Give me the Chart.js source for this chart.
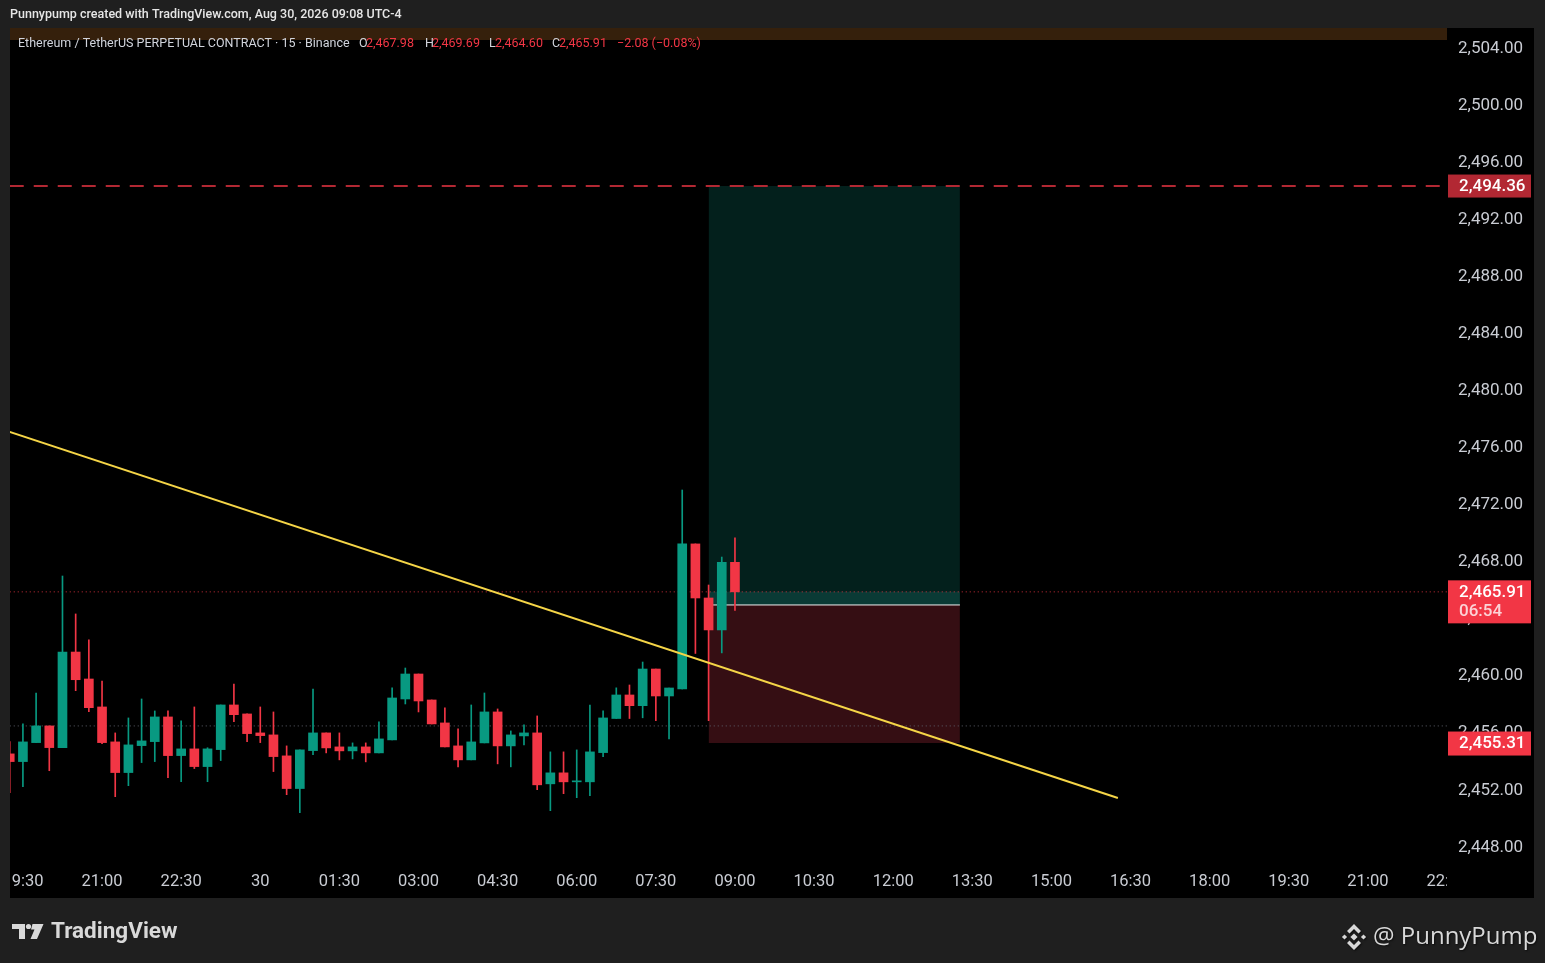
<!DOCTYPE html>
<html>
<head>
<meta charset="utf-8">
<script src="https://cdn.jsdelivr.net/npm/chart.js@4.4.0/dist/chart.umd.min.js"></script>
<style>
  html, body { margin: 0; padding: 0; background: #1f1f1f; overflow: hidden; }
  #wrap { position: relative; width: 1545px; height: 963px; }
</style>
</head>
<body>
<div id="wrap"><canvas id="c" width="1545" height="963"></canvas></div>
<script>
// 15m ETHUSDT.P candles, Aug 29 19:15 -> Aug 30 09:00 (UTC-4)
var candleTimes = ["19:15","19:30","19:45","20:00","20:15","20:30","20:45","21:00","21:15","21:30","21:45","22:00","22:15","22:30","22:45","23:00","23:15","23:30","23:45","00:00","00:15","00:30","00:45","01:00","01:15","01:30","01:45","02:00","02:15","02:30","02:45","03:00","03:15","03:30","03:45","04:00","04:15","04:30","04:45","05:00","05:15","05:30","05:45","06:00","06:15","06:30","06:45","07:00","07:15","07:30","07:45","08:00","08:15","08:30","08:45","09:00"];
var opens  = [2454.55,2454.01,2455.34,2456.51,2454.99,2461.69,2459.80,2457.84,2455.39,2453.24,2455.13,2455.41,2457.14,2454.43,2454.90,2453.66,2454.85,2457.98,2457.35,2456.02,2455.88,2454.41,2452.12,2454.78,2456.02,2455.04,2454.76,2455.04,2454.62,2455.53,2458.40,2460.15,2458.33,2456.72,2455.11,2454.13,2455.32,2457.49,2455.11,2455.81,2456.02,2452.45,2453.22,2452.59,2452.59,2454.64,2457.03,2458.68,2457.93,2460.50,2458.61,2459.10,2469.27,2465.48,2463.24,2467.98];
var highs  = [2455.41,2456.65,2458.82,2456.51,2467.02,2464.36,2462.54,2459.66,2456.02,2457.07,2458.40,2457.56,2457.56,2456.86,2457.84,2454.98,2457.98,2459.45,2457.35,2457.84,2457.49,2455.11,2454.83,2459.10,2456.02,2456.02,2455.32,2455.32,2456.79,2459.18,2460.57,2460.15,2458.33,2457.77,2456.30,2457.98,2458.82,2457.70,2456.16,2456.58,2457.21,2454.69,2454.69,2454.83,2457.98,2457.56,2459.18,2459.38,2460.99,2460.50,2459.17,2473.05,2469.27,2466.39,2468.35,2469.69];
var lows   = [2451.83,2452.25,2455.34,2453.37,2454.99,2458.98,2457.51,2455.27,2451.55,2452.32,2453.94,2454.01,2452.88,2452.60,2453.52,2452.60,2454.08,2456.81,2455.41,2455.34,2453.31,2451.69,2450.43,2454.50,2454.62,2454.13,2454.20,2453.99,2454.62,2455.53,2458.05,2457.49,2456.65,2455.04,2453.64,2454.13,2455.32,2453.85,2453.64,2455.18,2452.04,2450.57,2451.76,2451.48,2451.62,2454.36,2457.03,2457.03,2457.08,2456.88,2455.60,2459.10,2461.59,2456.88,2461.63,2464.60];
var closes = [2454.01,2455.39,2456.51,2454.99,2461.69,2459.75,2457.79,2455.34,2453.24,2455.18,2455.46,2457.14,2454.43,2454.90,2453.66,2454.90,2457.98,2457.30,2455.97,2455.83,2454.36,2452.12,2454.83,2456.02,2454.97,2454.76,2455.04,2454.62,2455.60,2458.47,2460.15,2458.26,2456.65,2455.04,2454.13,2455.39,2457.49,2455.11,2455.88,2456.02,2452.38,2453.22,2452.59,2452.64,2454.69,2457.07,2458.68,2457.93,2460.50,2458.61,2459.17,2469.27,2465.48,2463.24,2467.98,2465.91];

// time axis: bar index of each label (one label per 6 bars)
var xTickPos    = [1,7,13,19,25,31,37,43,49,55,61,67,73,79,85,91,97,103,109];
var xTickLabels = ["19:30","21:00","22:30","30","01:30","03:00","04:30","06:00","07:30","09:00","10:30","12:00","13:30","15:00","16:30","18:00","19:30","21:00","22:30"];
var yTicks = [2448,2452,2456,2460,2464,2468,2472,2476,2480,2484,2488,2492,2496,2500,2504];

// drawings
var trendX = [0, 84.04];
var trendY = [2477.12, 2451.46];
var boxX = [53, 72.06];
var targetPrice = 2494.36;
var entryPrice = 2464.99;
var stopPrice = 2455.31;
var lastPrice = 2465.91;
var greyLevel = 2456.51;

var UP = '#089981', DOWN = '#f23645';

var candleColors = closes.map(function (c, i) { return c >= opens[i] ? UP : DOWN; });
var wickData = lows.map(function (l, i) { return { x: i, y: [l, highs[i]] }; });
var bodyData = opens.map(function (o, i) { return { x: i, y: [o, closes[i]] }; });

function hline(price, x0, x1) { return [{ x: x0, y: price }, { x: x1, y: price }]; }
function fmt(v) { return v.toLocaleString('en-US', { minimumFractionDigits: 2, maximumFractionDigits: 2 }); }

var frame = {
  id: 'frame',
  beforeDraw: function (chart) {
    var ctx = chart.ctx;
    ctx.save();
    ctx.fillStyle = '#1f1f1f';
    ctx.fillRect(0, 0, 1545, 963);
    ctx.fillStyle = '#000';
    ctx.fillRect(10, 28, 1524, 870);
    ctx.fillStyle = '#35200c';
    ctx.fillRect(10, 28, 1437, 12);
    ctx.restore();
  },
  afterDraw: function (chart) {
    var ctx = chart.ctx, ys = chart.scales.y;
    ctx.save();
    // clip time labels at the pane edges
    ctx.fillStyle = '#1f1f1f';
    ctx.fillRect(0, 28, 10, 870);
    ctx.fillStyle = '#000';
    ctx.fillRect(1447, 863, 87, 34);

    // header
    ctx.textBaseline = 'middle';
    ctx.textAlign = 'left';
    ctx.fillStyle = '#e6e6e6';
    ctx.font = '500 12.5px Roboto';
    ctx.fillText('Punnypump created with TradingView.com, Aug 30, 2026 09:08 UTC-4', 10, 15);

    // legend line
    ctx.font = '12.5px Roboto';
    ctx.fillStyle = '#d1d4dc';
    ctx.fillText('Ethereum / TetherUS PERPETUAL CONTRACT \u00b7 15 \u00b7 Binance', 18, 44);
    var parts = [['O', 359, fmt(opens[55]), 366], ['H', 425, fmt(highs[55]), 432], ['L', 489, fmt(lows[55]), 495], ['C', 552, fmt(closes[55]), 559]];
    parts.forEach(function (p) {
      ctx.fillStyle = '#d1d4dc'; ctx.fillText(p[0], p[1], 44);
      ctx.fillStyle = DOWN; ctx.fillText(p[2], p[3], 44);
    });
    ctx.fillStyle = DOWN;
    ctx.fillText('\u22122.08 (\u22120.08%)', 617, 44);

    // price scale labels
    function tag(price, color, h, text, sub) {
      var y = ys.getPixelForValue(price);
      ctx.fillStyle = color;
      ctx.fillRect(1448, y - 11.5, 83, h);
      ctx.fillStyle = '#fff';
      ctx.font = '500 17px Roboto';
      ctx.fillText(text, 1459, y + 0.5);
      if (sub) {
        ctx.fillStyle = 'rgba(255,255,255,0.78)';
        ctx.fillText(sub, 1459, y + 20);
      }
    }
    tag(targetPrice, '#b22833', 23, fmt(targetPrice));
    tag(lastPrice, DOWN, 43, fmt(lastPrice), '06:54');
    tag(stopPrice, DOWN, 24, fmt(stopPrice));

    // footer: TradingView logo
    ctx.fillStyle = '#d9d9d9';
    ctx.fillRect(12, 924, 13, 5);
    ctx.fillRect(19, 924, 6, 15);
    ctx.beginPath(); ctx.arc(28.5, 926.5, 2.6, 0, Math.PI * 2); ctx.fill();
    ctx.beginPath();
    ctx.moveTo(32.5, 924); ctx.lineTo(43.5, 924); ctx.lineTo(37, 939); ctx.lineTo(30.5, 939); ctx.lineTo(34.5, 929.5); ctx.lineTo(31, 929.5);
    ctx.closePath(); ctx.fill();
    ctx.font = 'bold 22.5px Roboto';
    ctx.fillText('TradingView', 51, 932);

    // footer: watermark
    var cx = 1354, cy = 937;
    ctx.fillStyle = '#d8d8d8';
    ctx.shadowColor = 'rgba(0,0,0,0.6)'; ctx.shadowBlur = 2; ctx.shadowOffsetX = 1; ctx.shadowOffsetY = 1;
    function diamond(x, y, r) { ctx.beginPath(); ctx.moveTo(x, y - r); ctx.lineTo(x + r, y); ctx.lineTo(x, y + r); ctx.lineTo(x - r, y); ctx.closePath(); ctx.fill(); }
    diamond(cx, cy, 3.6);
    diamond(cx - 9.5, cy, 2.6);
    diamond(cx + 9.5, cy, 2.6);
    [-1, 1].forEach(function (s) {
      ctx.beginPath();
      ctx.moveTo(cx, cy + s * 13); ctx.lineTo(cx + 7, cy + s * 6); ctx.lineTo(cx + 4.5, cy + s * 3.5);
      ctx.lineTo(cx, cy + s * 8); ctx.lineTo(cx - 4.5, cy + s * 3.5); ctx.lineTo(cx - 7, cy + s * 6);
      ctx.closePath(); ctx.fill();
    });
    ctx.font = '24px "Open Sans"';
    ctx.fillText('@ PunnyPump', 1373, cy);
    ctx.restore();
  }
};

new Chart(document.getElementById('c'), {
  type: 'bar',
  data: {
    datasets: [
      { type: 'line', data: hline(targetPrice, boxX[0], boxX[1]), fill: { value: entryPrice }, backgroundColor: '#03201c', borderWidth: 0, pointRadius: 0, order: 12 },
      { type: 'line', data: hline(lastPrice, boxX[0], boxX[1]), fill: { value: entryPrice }, backgroundColor: '#0a3a35', borderWidth: 0, pointRadius: 0, order: 11 },
      { type: 'line', data: hline(stopPrice, boxX[0], boxX[1]), fill: { value: entryPrice }, backgroundColor: '#350e13', borderWidth: 0, pointRadius: 0, order: 11 },
      { type: 'line', data: hline(entryPrice, boxX[0], boxX[1]), borderColor: '#f0f0f0', borderWidth: 1, pointRadius: 0, order: 10 },
      { type: 'line', data: hline(targetPrice, 0, 109), borderColor: '#b22833', borderWidth: 2, borderDash: [14, 10], pointRadius: 0, order: 9 },
      { type: 'line', data: hline(lastPrice, 0, 109), borderColor: 'rgba(242,54,69,0.85)', borderWidth: 1, borderDash: [1, 3], pointRadius: 0, order: 9 },
      { type: 'line', data: hline(greyLevel, 0, 109), borderColor: '#5d606b', borderWidth: 1, borderDash: [1, 3], pointRadius: 0, order: 9 },
      { label: 'wick', data: wickData, backgroundColor: candleColors, barThickness: 1, grouped: false, borderWidth: 0, order: 3 },
      { label: 'body', data: bodyData, backgroundColor: candleColors, barThickness: 9, minBarLength: 1, grouped: false, borderWidth: 0, order: 2 },
      { type: 'line', data: [{ x: trendX[0], y: trendY[0] }, { x: trendX[1], y: trendY[1] }], borderColor: '#f5d547', borderWidth: 2, pointRadius: 0, order: 0 }
    ]
  },
  options: {
    responsive: false,
    animation: false,
    devicePixelRatio: 1,
    layout: { padding: { left: 10, right: 10, top: 28, bottom: 65 } },
    plugins: { legend: { display: false }, tooltip: { enabled: false } },
    scales: {
      x: {
        type: 'linear', min: 0.02, max: 109, offset: false,
        grid: { display: false, drawTicks: false }, border: { display: false },
        afterBuildTicks: function (s) { s.ticks = xTickPos.map(function (v) { return { value: v }; }); },
        afterFit: function (s) { s.height = 36; s.paddingLeft = 0; s.paddingRight = 0; },
        ticks: {
          autoSkip: false, maxRotation: 0, padding: 10, color: '#c9ccd3', font: { family: 'Roboto', size: 16.5 },
          callback: function (v) { var k = xTickPos.indexOf(v); return k >= 0 ? xTickLabels[k] : ''; }
        }
      },
      y: {
        position: 'right', min: 2446.97, max: 2505.44,
        grid: { display: false, drawTicks: false }, border: { display: false },
        afterBuildTicks: function (s) { s.ticks = yTicks.map(function (v) { return { value: v }; }); },
        afterFit: function (s) { s.width = 88; s.paddingTop = 0; s.paddingBottom = 0; },
        ticks: { padding: 11, color: '#c9ccd3', font: { family: 'Roboto', size: 17 }, callback: function (v) { return fmt(v); } }
      }
    }
  },
  plugins: [frame]
});
</script>
</body>
</html>
